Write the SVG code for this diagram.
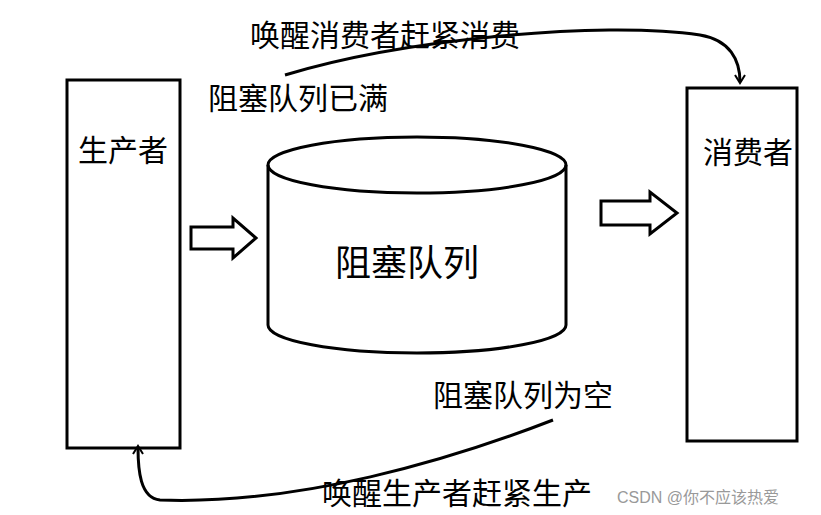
<svg xmlns="http://www.w3.org/2000/svg" width="821" height="515" viewBox="0 0 821 515">
<style>
.s{fill:none;stroke:#000;stroke-width:3}
.t{font-family:"Liberation Sans","Noto Sans CJK SC",sans-serif;fill:#000}
</style>
<defs><marker id="ah" markerWidth="12" markerHeight="12" refX="8" refY="6" orient="auto" markerUnits="userSpaceOnUse"><path d="M1,1 L9,6 L1,11" fill="none" stroke="#000" stroke-width="2"/></marker></defs>
<rect width="821" height="515" fill="#fff"/>
<g id="producer"><rect class="s" x="67" y="80" width="113" height="368"/><text class="t" x="78" y="161" font-size="30">生产者</text></g>
<g id="consumer"><rect class="s" x="687" y="88" width="110" height="353"/><text class="t" x="703" y="163" font-size="30">消费者</text></g>
<g id="queue"><path class="s" d="M268,165 V325 A149,28 0 0 0 566,325 V165"/><ellipse class="s" cx="417" cy="165" rx="149" ry="28"/><text class="t" x="335" y="276" font-size="36">阻塞队列</text></g>
<g id="connectors">
<path class="s" stroke-width="2.5" d="M191,227 H233 V218 L256,238 L233,258 V249 H191 Z"/>
<path class="s" stroke-width="2.5" d="M601,201 H650 V192 L677,213 L650,234 V225 H601 Z"/>
<path class="s" stroke-width="2" d="M285,75 C400,40 600,20 700,35 C730,40 740,60 740,82" marker-end="url(#ah)"/>
<path class="s" stroke-width="2" d="M553,420 C450,460 300,505 160,500 C140,498 138,470 138,447" marker-end="url(#ah)"/>
</g>
<g id="labels">
<text class="t" x="250" y="46" font-size="30">唤醒消费者赶紧消费</text>
<text class="t" x="208" y="109" font-size="30">阻塞队列已满</text>
<text class="t" x="433" y="406" font-size="30">阻塞队列为空</text>
<text class="t" x="322" y="504" font-size="30">唤醒生产者赶紧生产</text>
<text class="t" x="617" y="503" font-size="16" style="fill:#999">CSDN @你不应该热爱</text>
</g>
</svg>
